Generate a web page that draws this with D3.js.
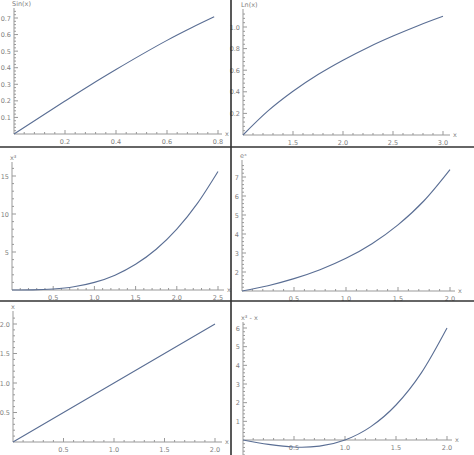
<!DOCTYPE html><html><head><meta charset="utf-8">
<script src="https://cdn.jsdelivr.net/npm/d3@7"></script>
<style>body{margin:0;background:#fff}svg{display:block}text{font-family:"DejaVu Sans",sans-serif;fill:#808080}</style>
</head><body><svg width="474" height="455"></svg><script>
// Data
const sinX=[0,0.1,0.2,0.3,0.4,0.5,0.6,0.7,0.785];
const sinY=[0,0.1,0.199,0.296,0.389,0.479,0.565,0.644,0.707];
const lnX=[1,1.25,1.5,1.75,2,2.25,2.5,2.75,3];
const lnY=[0,0.223,0.405,0.56,0.693,0.811,0.916,1.012,1.099];
const cubeX=[0,0.25,0.5,0.75,1,1.25,1.5,1.75,2,2.25,2.5];
const cubeY=[0,0.016,0.125,0.42,1,1.95,3.38,5.36,8,11.4,15.6];
const expX=[0,0.25,0.5,0.75,1,1.25,1.5,1.75,2];
const expY=[1,1.28,1.65,2.12,2.72,3.49,4.48,5.75,7.39];
const linX=[0,0.5,1,1.5,2];
const linY=[0,0.5,1,1.5,2];
const polyX=[0,0.25,0.5,0.577,0.75,1,1.25,1.5,1.75,2];
const polyY=[0,-0.234,-0.375,-0.385,-0.328,0,0.703,1.875,3.61,6];
const xTicks=[[0.2,0.4,0.6,0.8],[1.5,2.0,2.5,3.0],[0.5,1.0,1.5,2.0,2.5],[0.5,1.0,1.5,2.0],[0.5,1.0,1.5,2.0],[0.5,1.0,1.5,2.0]];
const yTicks=[[0.1,0.2,0.3,0.4,0.5,0.6,0.7],[0.2,0.4,0.6,0.8,1.0],[5,10,15],[2,3,4,5,6,7],[0.5,1.0,1.5,2.0],[1,2,3,4,5,6]];
const titles=["Sin(x)","Ln(x)","x³","eˣ","x","x³ - x"];

const panels=[
 {xs:sinX,ys:sinY,xd:[0,0.8],xr:[14,218],yd:[0,0.7],yr:[134,18],yTop:8,xEnd:222,fmt:d3.format(".1f")},
 {xs:lnX,ys:lnY,xd:[1,3],xr:[243,443],yd:[0,1],yr:[135,27],yTop:9,xEnd:450,fmt:d3.format(".1f")},
 {xs:cubeX,ys:cubeY,xd:[0,2.5],xr:[12,218],yd:[0,15],yr:[290,176],yTop:162,xEnd:224,fmt:d3.format(".1f"),yfmt:d3.format("d")},
 {xs:expX,ys:expY,xd:[0,2],xr:[242,450],yd:[1,7],yr:[291,177],yTop:160,xEnd:455,fmt:d3.format(".1f"),yfmt:d3.format("d")},
 {xs:linX,ys:linY,xd:[0,2],xr:[13,215],yd:[0,2],yr:[442,324],yTop:311,xEnd:222,fmt:d3.format(".1f")},
 {xs:polyX,ys:polyY,xd:[0,2],xr:[243,447],yd:[0,6],yr:[440,328],yTop:322,xEnd:452,yBot:455,fmt:d3.format(".1f"),yfmt:d3.format("d")}
];
const svg=d3.select("svg");
panels.forEach((p,i)=>{
  const x=d3.scaleLinear().domain(p.xd).range(p.xr);
  const y=d3.scaleLinear().domain(p.yd).range(p.yr);
  const g=svg.append("g");
  const ox=x(p.xd[0]), oy=y(p.yd[0]);
  const ax="#999";
  g.append("line").attr("x1",ox).attr("x2",p.xEnd).attr("y1",oy).attr("y2",oy).attr("stroke",ax);
  g.append("line").attr("x1",ox).attr("x2",ox).attr("y1",p.yBot||oy).attr("y2",p.yTop).attr("stroke",ax);
  const xt=xTicks[i], yt=yTicks[i];
  const xstep=(xt[1]-xt[0])/5, ystep=(yt[1]-yt[0])/5;
  for(let v=p.xd[0]+xstep;x(v)<p.xEnd-2;v+=xstep){
    const major=xt.some(t=>Math.abs(t-v)<1e-6);
    g.append("line").attr("x1",x(v)).attr("x2",x(v)).attr("y1",oy).attr("y2",oy-(major?4:2)).attr("stroke",ax);
  }
  for(let v=p.yd[0]+ystep;y(v)>p.yTop+2;v+=ystep){
    const major=yt.some(t=>Math.abs(t-v)<1e-6);
    g.append("line").attr("x1",ox).attr("x2",ox+(major?4:2)).attr("y1",y(v)).attr("y2",y(v)).attr("stroke",ax);
  }
  if(p.yBot){for(let v=p.yd[0]-ystep;y(v)<p.yBot;v-=ystep)g.append("line").attr("x1",ox).attr("x2",ox+2).attr("y1",y(v)).attr("y2",y(v)).attr("stroke",ax);}
  xt.forEach(t=>g.append("text").attr("x",x(t)).attr("y",oy+10).attr("text-anchor","middle").attr("font-size",6.5).text(p.fmt(t)));
  yt.forEach(t=>g.append("text").attr("x",ox-3).attr("y",y(t)+2.5).attr("text-anchor","end").attr("font-size",6.5).text((p.yfmt||p.fmt)(t)));
  g.append("text").attr("x",p.xEnd+3).attr("y",oy+2).attr("font-size",6.5).text("x");
  g.append("text").attr("x",ox-2).attr("y",p.yTop-2).attr("font-size",6.5).text(titles[i]);
  g.append("path").datum(p.xs.map((v,k)=>[v,p.ys[k]]))
   .attr("d",d3.line().x(d=>x(d[0])).y(d=>y(d[1])).curve(d3.curveMonotoneX))
   .attr("fill","none").attr("stroke","#5a6e94").attr("stroke-width",1.1);
});
svg.append("line").attr("x1",231).attr("x2",231).attr("y1",0).attr("y2",455).attr("stroke","#222").attr("stroke-width",1.5);
svg.append("line").attr("x1",0).attr("x2",474).attr("y1",147).attr("y2",147).attr("stroke","#333").attr("stroke-width",1.5);
svg.append("line").attr("x1",0).attr("x2",474).attr("y1",301).attr("y2",301).attr("stroke","#333").attr("stroke-width",1.5);
</script></body></html>
